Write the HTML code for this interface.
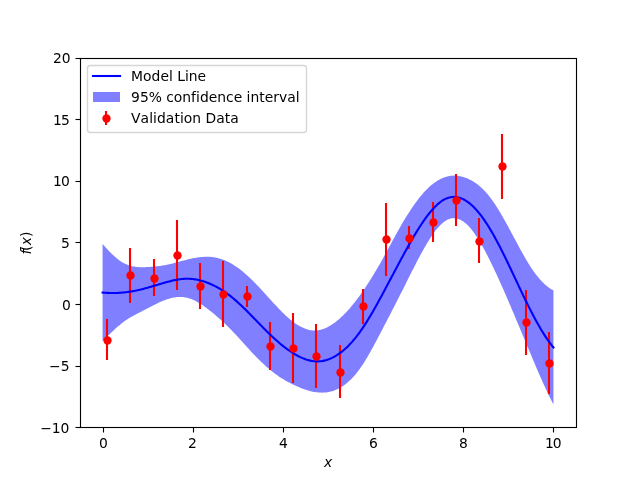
<!DOCTYPE html>
<html lang="en">
<head>
<meta charset="utf-8">
<title>Model Line with 95% confidence interval</title>
<style>
html,body{margin:0;padding:0;background:#fff;}
body{width:640px;height:480px;overflow:hidden;}
svg{display:block;}
svg text{font-family:"DejaVu Sans","Liberation Sans",sans-serif;font-size:13.889px;fill:#000;}
.it{font-style:oblique;}
</style>
</head>
<body>
<svg width="640" height="480" viewBox="0 0 640 480">
<rect x="0" y="0" width="640" height="480" fill="#ffffff"/>
<polygon points="102.55,244.01 103.68,245.31 104.81,246.59 105.94,247.85 107.07,249.08 108.2,250.29 109.33,251.46 110.46,252.61 111.59,253.73 112.72,254.81 113.85,255.85 114.98,256.86 116.11,257.82 117.24,258.74 118.37,259.62 119.5,260.45 120.63,261.23 121.76,261.97 122.89,262.64 124.02,263.27 125.15,263.83 126.28,264.35 127.41,264.81 128.54,265.22 129.67,265.58 130.8,265.9 131.93,266.18 133.06,266.42 134.19,266.62 135.32,266.78 136.45,266.92 137.58,267.03 138.71,267.1 139.84,267.16 140.97,267.19 142.1,267.21 143.23,267.2 144.36,267.19 145.49,267.16 146.62,267.12 147.75,267.07 148.88,267.02 150.01,266.95 151.14,266.87 152.27,266.79 153.4,266.69 154.53,266.59 155.66,266.47 156.79,266.34 157.92,266.21 159.05,266.06 160.18,265.9 161.31,265.73 162.44,265.55 163.57,265.36 164.7,265.16 165.83,264.94 166.96,264.72 168.09,264.48 169.22,264.23 170.35,263.97 171.48,263.7 172.61,263.43 173.74,263.15 174.87,262.86 176,262.57 177.13,262.27 178.26,261.97 179.39,261.67 180.52,261.37 181.65,261.07 182.78,260.77 183.91,260.48 185.04,260.19 186.17,259.9 187.3,259.62 188.43,259.34 189.56,259.08 190.69,258.82 191.82,258.57 192.95,258.34 194.08,258.11 195.21,257.9 196.34,257.7 197.47,257.52 198.6,257.36 199.73,257.21 200.86,257.08 201.99,256.97 203.12,256.88 204.25,256.82 205.38,256.78 206.51,256.76 207.64,256.76 208.77,256.8 209.9,256.86 211.03,256.95 212.16,257.06 213.29,257.21 214.42,257.39 215.56,257.59 216.69,257.82 217.82,258.09 218.95,258.38 220.08,258.7 221.21,259.06 222.34,259.44 223.47,259.85 224.6,260.29 225.73,260.77 226.86,261.27 227.99,261.81 229.12,262.37 230.25,262.97 231.38,263.6 232.51,264.26 233.64,264.94 234.77,265.66 235.9,266.41 237.03,267.19 238.16,268 239.29,268.83 240.42,269.69 241.55,270.58 242.68,271.49 243.81,272.43 244.94,273.39 246.07,274.38 247.2,275.38 248.33,276.42 249.46,277.47 250.59,278.54 251.72,279.64 252.85,280.75 253.98,281.89 255.11,283.04 256.24,284.21 257.37,285.39 258.5,286.58 259.63,287.79 260.76,289.01 261.89,290.24 263.02,291.47 264.15,292.71 265.28,293.96 266.41,295.2 267.54,296.45 268.67,297.7 269.8,298.95 270.93,300.19 272.06,301.43 273.19,302.67 274.32,303.89 275.45,305.11 276.58,306.32 277.71,307.51 278.84,308.69 279.97,309.86 281.1,311 282.23,312.13 283.36,313.25 284.49,314.33 285.62,315.4 286.75,316.44 287.88,317.46 289.01,318.44 290.14,319.4 291.27,320.33 292.4,321.22 293.53,322.08 294.66,322.91 295.79,323.7 296.92,324.45 298.05,325.16 299.18,325.83 300.31,326.46 301.44,327.05 302.57,327.59 303.7,328.09 304.83,328.55 305.96,328.96 307.09,329.33 308.22,329.64 309.35,329.91 310.48,330.13 311.61,330.3 312.74,330.42 313.87,330.49 315,330.51 316.13,330.47 317.26,330.38 318.39,330.23 319.52,330.03 320.65,329.78 321.78,329.47 322.91,329.12 324.04,328.71 325.17,328.26 326.3,327.76 327.43,327.21 328.57,326.61 329.7,325.98 330.83,325.29 331.96,324.57 333.09,323.8 334.22,322.99 335.35,322.15 336.48,321.26 337.61,320.34 338.74,319.38 339.87,318.38 341,317.35 342.13,316.29 343.26,315.19 344.39,314.06 345.52,312.89 346.65,311.69 347.78,310.46 348.91,309.2 350.04,307.91 351.17,306.58 352.3,305.23 353.43,303.84 354.56,302.43 355.69,300.98 356.82,299.51 357.95,298.01 359.08,296.48 360.21,294.92 361.34,293.34 362.47,291.73 363.6,290.09 364.73,288.43 365.86,286.74 366.99,285.03 368.12,283.29 369.25,281.53 370.38,279.74 371.51,277.94 372.64,276.1 373.77,274.25 374.9,272.37 376.03,270.47 377.16,268.55 378.29,266.61 379.42,264.65 380.55,262.67 381.68,260.67 382.81,258.65 383.94,256.61 385.07,254.56 386.2,252.49 387.33,250.42 388.46,248.34 389.59,246.26 390.72,244.17 391.85,242.09 392.98,240.01 394.11,237.93 395.24,235.87 396.37,233.81 397.5,231.77 398.63,229.75 399.76,227.74 400.89,225.76 402.02,223.8 403.15,221.87 404.28,219.96 405.41,218.09 406.54,216.25 407.67,214.43 408.8,212.66 409.93,210.91 411.06,209.2 412.19,207.52 413.32,205.88 414.45,204.28 415.58,202.71 416.71,201.18 417.84,199.69 418.97,198.24 420.1,196.83 421.23,195.46 422.36,194.13 423.49,192.85 424.62,191.61 425.75,190.42 426.88,189.27 428.01,188.16 429.14,187.1 430.27,186.09 431.4,185.12 432.53,184.19 433.66,183.32 434.79,182.49 435.92,181.7 437.05,180.97 438.18,180.27 439.31,179.63 440.44,179.04 441.58,178.49 442.71,177.99 443.84,177.53 444.97,177.13 446.1,176.77 447.23,176.47 448.36,176.21 449.49,176 450.62,175.83 451.75,175.71 452.88,175.64 454.01,175.61 455.14,175.63 456.27,175.69 457.4,175.79 458.53,175.94 459.66,176.13 460.79,176.36 461.92,176.63 463.05,176.94 464.18,177.29 465.31,177.68 466.44,178.11 467.57,178.58 468.7,179.09 469.83,179.63 470.96,180.21 472.09,180.84 473.22,181.51 474.35,182.22 475.48,182.97 476.61,183.77 477.74,184.62 478.87,185.52 480,186.47 481.13,187.47 482.26,188.52 483.39,189.63 484.52,190.79 485.65,192 486.78,193.28 487.91,194.61 489.04,196 490.17,197.46 491.3,198.97 492.43,200.54 493.56,202.16 494.69,203.83 495.82,205.55 496.95,207.31 498.08,209.12 499.21,210.97 500.34,212.85 501.47,214.77 502.6,216.72 503.73,218.7 504.86,220.71 505.99,222.73 507.12,224.78 508.25,226.85 509.38,228.94 510.51,231.04 511.64,233.14 512.77,235.26 513.9,237.38 515.03,239.49 516.16,241.61 517.29,243.72 518.42,245.81 519.55,247.9 520.68,249.96 521.81,252.01 522.94,254.03 524.07,256.02 525.2,257.98 526.33,259.91 527.46,261.8 528.59,263.64 529.72,265.45 530.85,267.2 531.98,268.9 533.11,270.55 534.24,272.14 535.37,273.68 536.5,275.15 537.63,276.58 538.76,277.94 539.89,279.25 541.02,280.51 542.15,281.7 543.28,282.84 544.41,283.92 545.54,284.95 546.67,285.91 547.8,286.82 548.93,287.67 550.06,288.46 551.19,289.19 552.32,289.86 553.46,290.47 553.46,404.4 552.32,402.25 551.19,400.04 550.06,397.78 548.93,395.48 547.8,393.14 546.67,390.75 545.54,388.33 544.41,385.87 543.28,383.38 542.15,380.86 541.02,378.32 539.89,375.74 538.76,373.15 537.63,370.53 536.5,367.9 535.37,365.25 534.24,362.58 533.11,359.91 531.98,357.23 530.85,354.54 529.72,351.85 528.59,349.15 527.46,346.45 526.33,343.75 525.2,341.04 524.07,338.34 522.94,335.63 521.81,332.93 520.68,330.22 519.55,327.52 518.42,324.82 517.29,322.13 516.16,319.43 515.03,316.75 513.9,314.07 512.77,311.4 511.64,308.73 510.51,306.07 509.38,303.42 508.25,300.79 507.12,298.16 505.99,295.55 504.86,292.95 503.73,290.37 502.6,287.8 501.47,285.25 500.34,282.72 499.21,280.21 498.08,277.72 496.95,275.26 495.82,272.82 494.69,270.4 493.56,268.01 492.43,265.65 491.3,263.32 490.17,261.02 489.04,258.75 487.91,256.51 486.78,254.31 485.65,252.14 484.52,250.02 483.39,247.94 482.26,245.91 481.13,243.93 480,242 478.87,240.13 477.74,238.32 476.61,236.57 475.48,234.88 474.35,233.26 473.22,231.71 472.09,230.23 470.96,228.83 469.83,227.5 468.7,226.26 467.57,225.1 466.44,224.03 465.31,223.05 464.18,222.15 463.05,221.35 461.92,220.63 460.79,220.01 459.66,219.47 458.53,219.03 457.4,218.68 456.27,218.43 455.14,218.27 454.01,218.2 452.88,218.23 451.75,218.36 450.62,218.58 449.49,218.9 448.36,219.32 447.23,219.84 446.1,220.45 444.97,221.17 443.84,221.98 442.71,222.89 441.58,223.89 440.44,224.98 439.31,226.15 438.18,227.4 437.05,228.72 435.92,230.12 434.79,231.59 433.66,233.13 432.53,234.73 431.4,236.4 430.27,238.12 429.14,239.89 428.01,241.71 426.88,243.58 425.75,245.49 424.62,247.45 423.49,249.44 422.36,251.46 421.23,253.52 420.1,255.61 418.97,257.72 417.84,259.86 416.71,262.03 415.58,264.21 414.45,266.41 413.32,268.63 412.19,270.86 411.06,273.1 409.93,275.35 408.8,277.6 407.67,279.86 406.54,282.12 405.41,284.38 404.28,286.64 403.15,288.89 402.02,291.14 400.89,293.37 399.76,295.6 398.63,297.83 397.5,300.04 396.37,302.25 395.24,304.46 394.11,306.66 392.98,308.85 391.85,311.04 390.72,313.23 389.59,315.41 388.46,317.59 387.33,319.77 386.2,321.94 385.07,324.12 383.94,326.29 382.81,328.46 381.68,330.63 380.55,332.8 379.42,334.97 378.29,337.12 377.16,339.27 376.03,341.41 374.9,343.53 373.77,345.63 372.64,347.71 371.51,349.77 370.38,351.79 369.25,353.79 368.12,355.74 366.99,357.66 365.86,359.54 364.73,361.38 363.6,363.17 362.47,364.9 361.34,366.59 360.21,368.21 359.08,369.78 357.95,371.29 356.82,372.74 355.69,374.13 354.56,375.46 353.43,376.74 352.3,377.96 351.17,379.13 350.04,380.24 348.91,381.3 347.78,382.31 346.65,383.26 345.52,384.16 344.39,385.01 343.26,385.82 342.13,386.57 341,387.27 339.87,387.93 338.74,388.54 337.61,389.1 336.48,389.62 335.35,390.09 334.22,390.52 333.09,390.9 331.96,391.25 330.83,391.55 329.7,391.82 328.57,392.04 327.43,392.23 326.3,392.38 325.17,392.49 324.04,392.57 322.91,392.62 321.78,392.63 320.65,392.61 319.52,392.56 318.39,392.48 317.26,392.37 316.13,392.24 315,392.07 313.87,391.88 312.74,391.66 311.61,391.42 310.48,391.15 309.35,390.86 308.22,390.55 307.09,390.22 305.96,389.86 304.83,389.49 303.7,389.09 302.57,388.68 301.44,388.25 300.31,387.8 299.18,387.33 298.05,386.85 296.92,386.36 295.79,385.85 294.66,385.33 293.53,384.8 292.4,384.25 291.27,383.68 290.14,383.11 289.01,382.51 287.88,381.9 286.75,381.28 285.62,380.63 284.49,379.97 283.36,379.3 282.23,378.6 281.1,377.88 279.97,377.14 278.84,376.39 277.71,375.61 276.58,374.81 275.45,373.99 274.32,373.15 273.19,372.28 272.06,371.4 270.93,370.49 269.8,369.56 268.67,368.61 267.54,367.63 266.41,366.64 265.28,365.63 264.15,364.6 263.02,363.55 261.89,362.49 260.76,361.41 259.63,360.31 258.5,359.19 257.37,358.06 256.24,356.91 255.11,355.75 253.98,354.58 252.85,353.39 251.72,352.19 250.59,350.97 249.46,349.75 248.33,348.52 247.2,347.28 246.07,346.03 244.94,344.78 243.81,343.53 242.68,342.28 241.55,341.03 240.42,339.78 239.29,338.54 238.16,337.3 237.03,336.07 235.9,334.84 234.77,333.63 233.64,332.43 232.51,331.24 231.38,330.07 230.25,328.91 229.12,327.77 227.99,326.64 226.86,325.53 225.73,324.44 224.6,323.36 223.47,322.29 222.34,321.25 221.21,320.21 220.08,319.19 218.95,318.19 217.82,317.2 216.69,316.22 215.56,315.26 214.42,314.31 213.29,313.37 212.16,312.45 211.03,311.54 209.9,310.65 208.77,309.76 207.64,308.9 206.51,308.05 205.38,307.21 204.25,306.4 203.12,305.61 201.99,304.84 200.86,304.1 199.73,303.38 198.6,302.7 197.47,302.04 196.34,301.42 195.21,300.83 194.08,300.28 192.95,299.77 191.82,299.29 190.69,298.86 189.56,298.47 188.43,298.13 187.3,297.84 186.17,297.58 185.04,297.38 183.91,297.22 182.78,297.1 181.65,297.02 180.52,296.99 179.39,296.99 178.26,297.03 177.13,297.11 176,297.23 174.87,297.38 173.74,297.56 172.61,297.78 171.48,298.03 170.35,298.32 169.22,298.63 168.09,298.97 166.96,299.34 165.83,299.73 164.7,300.15 163.57,300.6 162.44,301.06 161.31,301.55 160.18,302.05 159.05,302.57 157.92,303.11 156.79,303.65 155.66,304.21 154.53,304.78 153.4,305.35 152.27,305.94 151.14,306.52 150.01,307.11 148.88,307.7 147.75,308.29 146.62,308.87 145.49,309.45 144.36,310.03 143.23,310.6 142.1,311.17 140.97,311.74 139.84,312.31 138.71,312.88 137.58,313.46 136.45,314.05 135.32,314.65 134.19,315.26 133.06,315.88 131.93,316.52 130.8,317.18 129.67,317.86 128.54,318.56 127.41,319.28 126.28,320.04 125.15,320.82 124.02,321.62 122.89,322.47 121.76,323.34 120.63,324.24 119.5,325.16 118.37,326.12 117.24,327.09 116.11,328.09 114.98,329.1 113.85,330.14 112.72,331.19 111.59,332.25 110.46,333.32 109.33,334.41 108.2,335.5 107.07,336.6 105.94,337.71 104.81,338.81 103.68,339.92 102.55,341.03" fill="#0000ff" fill-opacity="0.5" stroke="none"/>
<g stroke="#ff0000" stroke-width="2.083" fill="none">
<line x1="107" y1="319" x2="107" y2="360"/>
<line x1="130" y1="248" x2="130" y2="303"/>
<line x1="154" y1="259" x2="154" y2="296"/>
<line x1="177" y1="220" x2="177" y2="290"/>
<line x1="200" y1="263" x2="200" y2="309"/>
<line x1="223" y1="261" x2="223" y2="327"/>
<line x1="247" y1="286" x2="247" y2="307"/>
<line x1="270" y1="322" x2="270" y2="370"/>
<line x1="293" y1="313" x2="293" y2="383"/>
<line x1="316" y1="324" x2="316" y2="388"/>
<line x1="340" y1="345" x2="340" y2="398"/>
<line x1="363" y1="289" x2="363" y2="324"/>
<line x1="386" y1="203" x2="386" y2="276"/>
<line x1="409" y1="226" x2="409" y2="249"/>
<line x1="433" y1="202" x2="433" y2="242"/>
<line x1="456" y1="174" x2="456" y2="226"/>
<line x1="479" y1="218" x2="479" y2="263"/>
<line x1="502" y1="134" x2="502" y2="199"/>
<line x1="526" y1="290" x2="526" y2="355"/>
<line x1="549" y1="332" x2="549" y2="394"/>
</g>
<polyline points="102.55,292.52 103.68,292.62 104.81,292.7 105.94,292.78 107.07,292.84 108.2,292.89 109.33,292.94 110.46,292.97 111.59,292.99 112.72,293 113.85,292.99 114.98,292.98 116.11,292.95 117.24,292.92 118.37,292.87 119.5,292.81 120.63,292.74 121.76,292.65 122.89,292.56 124.02,292.45 125.15,292.32 126.28,292.19 127.41,292.05 128.54,291.89 129.67,291.72 130.8,291.54 131.93,291.35 133.06,291.15 134.19,290.94 135.32,290.72 136.45,290.48 137.58,290.24 138.71,289.99 139.84,289.73 140.97,289.46 142.1,289.19 143.23,288.9 144.36,288.61 145.49,288.3 146.62,288 147.75,287.68 148.88,287.36 150.01,287.03 151.14,286.7 152.27,286.36 153.4,286.02 154.53,285.68 155.66,285.34 156.79,285 157.92,284.66 159.05,284.32 160.18,283.98 161.31,283.64 162.44,283.31 163.57,282.98 164.7,282.65 165.83,282.34 166.96,282.03 168.09,281.72 169.22,281.43 170.35,281.14 171.48,280.87 172.61,280.6 173.74,280.35 174.87,280.12 176,279.9 177.13,279.69 178.26,279.5 179.39,279.33 180.52,279.18 181.65,279.05 182.78,278.94 183.91,278.85 185.04,278.78 186.17,278.74 187.3,278.73 188.43,278.74 189.56,278.78 190.69,278.84 191.82,278.93 192.95,279.05 194.08,279.2 195.21,279.37 196.34,279.56 197.47,279.78 198.6,280.03 199.73,280.3 200.86,280.59 201.99,280.91 203.12,281.25 204.25,281.61 205.38,281.99 206.51,282.4 207.64,282.83 208.77,283.28 209.9,283.75 211.03,284.24 212.16,284.76 213.29,285.29 214.42,285.85 215.56,286.42 216.69,287.02 217.82,287.64 218.95,288.28 220.08,288.95 221.21,289.63 222.34,290.34 223.47,291.07 224.6,291.83 225.73,292.6 226.86,293.4 227.99,294.22 229.12,295.07 230.25,295.94 231.38,296.83 232.51,297.75 233.64,298.69 234.77,299.65 235.9,300.63 237.03,301.63 238.16,302.65 239.29,303.69 240.42,304.74 241.55,305.81 242.68,306.89 243.81,307.98 244.94,309.09 246.07,310.2 247.2,311.33 248.33,312.47 249.46,313.61 250.59,314.76 251.72,315.91 252.85,317.07 253.98,318.23 255.11,319.39 256.24,320.56 257.37,321.72 258.5,322.89 259.63,324.05 260.76,325.21 261.89,326.36 263.02,327.51 264.15,328.66 265.28,329.79 266.41,330.92 267.54,332.04 268.67,333.15 269.8,334.25 270.93,335.34 272.06,336.41 273.19,337.48 274.32,338.52 275.45,339.55 276.58,340.56 277.71,341.56 278.84,342.54 279.97,343.5 281.1,344.44 282.23,345.37 283.36,346.27 284.49,347.15 285.62,348.02 286.75,348.86 287.88,349.68 289.01,350.48 290.14,351.25 291.27,352.01 292.4,352.74 293.53,353.44 294.66,354.12 295.79,354.78 296.92,355.4 298.05,356.01 299.18,356.58 300.31,357.13 301.44,357.65 302.57,358.13 303.7,358.59 304.83,359.02 305.96,359.41 307.09,359.77 308.22,360.1 309.35,360.39 310.48,360.64 311.61,360.86 312.74,361.04 313.87,361.19 315,361.29 316.13,361.35 317.26,361.38 318.39,361.36 319.52,361.3 320.65,361.2 321.78,361.05 322.91,360.87 324.04,360.64 325.17,360.38 326.3,360.07 327.43,359.72 328.57,359.33 329.7,358.9 330.83,358.42 331.96,357.91 333.09,357.35 334.22,356.75 335.35,356.12 336.48,355.44 337.61,354.72 338.74,353.96 339.87,353.16 341,352.31 342.13,351.43 343.26,350.5 344.39,349.54 345.52,348.53 346.65,347.48 347.78,346.38 348.91,345.25 350.04,344.07 351.17,342.86 352.3,341.59 353.43,340.29 354.56,338.94 355.69,337.55 356.82,336.12 357.95,334.65 359.08,333.13 360.21,331.57 361.34,329.96 362.47,328.32 363.6,326.63 364.73,324.9 365.86,323.14 366.99,321.35 368.12,319.52 369.25,317.66 370.38,315.77 371.51,313.85 372.64,311.91 373.77,309.94 374.9,307.95 376.03,305.94 377.16,303.91 378.29,301.87 379.42,299.81 380.55,297.74 381.68,295.65 382.81,293.55 383.94,291.45 385.07,289.34 386.2,287.22 387.33,285.1 388.46,282.97 389.59,280.83 390.72,278.7 391.85,276.57 392.98,274.43 394.11,272.29 395.24,270.16 396.37,268.03 397.5,265.91 398.63,263.79 399.76,261.67 400.89,259.57 402.02,257.47 403.15,255.38 404.28,253.3 405.41,251.24 406.54,249.19 407.67,247.15 408.8,245.13 409.93,243.13 411.06,241.15 412.19,239.19 413.32,237.25 414.45,235.34 415.58,233.46 416.71,231.6 417.84,229.78 418.97,227.98 420.1,226.22 421.23,224.49 422.36,222.8 423.49,221.14 424.62,219.53 425.75,217.96 426.88,216.42 428.01,214.94 429.14,213.49 430.27,212.1 431.4,210.76 432.53,209.46 433.66,208.22 434.79,207.04 435.92,205.91 437.05,204.84 438.18,203.84 439.31,202.89 440.44,202.01 441.58,201.19 442.71,200.44 443.84,199.76 444.97,199.15 446.1,198.61 447.23,198.15 448.36,197.76 449.49,197.45 450.62,197.2 451.75,197.03 452.88,196.93 454.01,196.91 455.14,196.95 456.27,197.06 457.4,197.24 458.53,197.49 459.66,197.8 460.79,198.18 461.92,198.63 463.05,199.14 464.18,199.72 465.31,200.37 466.44,201.07 467.57,201.84 468.7,202.67 469.83,203.57 470.96,204.52 472.09,205.53 473.22,206.61 474.35,207.74 475.48,208.93 476.61,210.17 477.74,211.47 478.87,212.83 480,214.24 481.13,215.7 482.26,217.22 483.39,218.79 484.52,220.4 485.65,222.07 486.78,223.79 487.91,225.56 489.04,227.37 490.17,229.24 491.3,231.14 492.43,233.09 493.56,235.09 494.69,237.12 495.82,239.18 496.95,241.29 498.08,243.42 499.21,245.59 500.34,247.79 501.47,250.01 502.6,252.26 503.73,254.53 504.86,256.83 505.99,259.14 507.12,261.47 508.25,263.82 509.38,266.18 510.51,268.55 511.64,270.94 512.77,273.33 513.9,275.72 515.03,278.12 516.16,280.52 517.29,282.92 518.42,285.32 519.55,287.71 520.68,290.09 521.81,292.47 522.94,294.83 524.07,297.18 525.2,299.51 526.33,301.83 527.46,304.12 528.59,306.4 529.72,308.65 530.85,310.87 531.98,313.07 533.11,315.23 534.24,317.36 535.37,319.46 536.5,321.53 537.63,323.55 538.76,325.55 539.89,327.5 541.02,329.41 542.15,331.28 543.28,333.11 544.41,334.9 545.54,336.64 546.67,338.33 547.8,339.98 548.93,341.57 550.06,343.12 551.19,344.61 552.32,346.05 553.46,347.44" fill="none" stroke="#0000ff" stroke-width="2.083" stroke-linecap="square" stroke-linejoin="round"/>
<g fill="#ff0000" stroke="none">
<circle cx="107.5" cy="340.5" r="4.167"/>
<circle cx="130.5" cy="275.5" r="4.167"/>
<circle cx="154.5" cy="278.5" r="4.167"/>
<circle cx="177.5" cy="255.5" r="4.167"/>
<circle cx="200.5" cy="286.5" r="4.167"/>
<circle cx="223.5" cy="294.5" r="4.167"/>
<circle cx="247.5" cy="296.5" r="4.167"/>
<circle cx="270.5" cy="346.5" r="4.167"/>
<circle cx="293.5" cy="348.5" r="4.167"/>
<circle cx="316.5" cy="356.5" r="4.167"/>
<circle cx="340.5" cy="372.5" r="4.167"/>
<circle cx="363.5" cy="306.5" r="4.167"/>
<circle cx="386.5" cy="239.5" r="4.167"/>
<circle cx="409.5" cy="238.5" r="4.167"/>
<circle cx="433.5" cy="222.5" r="4.167"/>
<circle cx="456.5" cy="200.5" r="4.167"/>
<circle cx="479.5" cy="241.5" r="4.167"/>
<circle cx="502.5" cy="166.5" r="4.167"/>
<circle cx="526.5" cy="322.5" r="4.167"/>
<circle cx="549.5" cy="363.5" r="4.167"/>
</g>
<g stroke="#000000" stroke-width="1.111" fill="none">
<line x1="103.5" y1="427.5" x2="103.5" y2="432.5"/>
<line x1="193.5" y1="427.5" x2="193.5" y2="432.5"/>
<line x1="283.5" y1="427.5" x2="283.5" y2="432.5"/>
<line x1="373.5" y1="427.5" x2="373.5" y2="432.5"/>
<line x1="463.5" y1="427.5" x2="463.5" y2="432.5"/>
<line x1="553.5" y1="427.5" x2="553.5" y2="432.5"/>
<line x1="80.5" y1="427.5" x2="75.5" y2="427.5"/>
<line x1="80.5" y1="366.5" x2="75.5" y2="366.5"/>
<line x1="80.5" y1="304.5" x2="75.5" y2="304.5"/>
<line x1="80.5" y1="242.5" x2="75.5" y2="242.5"/>
<line x1="80.5" y1="181.5" x2="75.5" y2="181.5"/>
<line x1="80.5" y1="119.5" x2="75.5" y2="119.5"/>
<line x1="80.5" y1="58.5" x2="75.5" y2="58.5"/>
</g>
<rect x="80.5" y="58.5" width="496" height="369" fill="none" stroke="#000000" stroke-width="1.111" stroke-linejoin="miter"/>
<text x="103.3" y="448.4" text-anchor="middle">0</text>
<text x="192.45" y="448.4" text-anchor="middle">2</text>
<text x="283.3" y="448.4" text-anchor="middle">4</text>
<text x="373.3" y="448.4" text-anchor="middle">6</text>
<text x="463.3" y="448.4" text-anchor="middle">8</text>
<text x="545.0 552.85" y="448.4">10</text>
<text x="69.44" y="432.5" text-anchor="end">−10</text>
<text x="69.58" y="370.56" text-anchor="end">−5</text>
<text x="70.72" y="309.5" text-anchor="end">0</text>
<text x="69.9" y="247.5" text-anchor="end">5</text>
<text x="53.06 60.9" y="185.54">10</text>
<text x="53.07 60.9" y="124.5">15</text>
<text x="70.7" y="62.54" text-anchor="end">20</text>
<text class="it" x="324.07" y="466.7">x</text>
<g transform="translate(31.6 255.5) rotate(-90)"><text y="-0.56"><tspan class="it" x="1.1">f</tspan><tspan x="4.5">(</tspan><tspan class="it" x="10.31">x</tspan><tspan x="18.53">)</tspan></text></g>
<rect x="87.5" y="65.5" width="219" height="67" rx="2.78" ry="2.78" fill="#ffffff" fill-opacity="0.8" stroke="#cccccc" stroke-opacity="0.8" stroke-width="1.389"/>
<line x1="91.9" y1="76" x2="121.1" y2="76" stroke="#0000ff" stroke-width="2.083"/>
<text x="131.1 143.1 151.6 160.47 168.97 172.85 177.22 184.97 188.85 197.6" y="80.65">Model Line</text>
<rect x="93" y="92" width="27" height="10" fill="#0000ff" fill-opacity="0.5"/>
<text x="131.1 139.97 148.72 161.85 166.22 173.85 182.35 191.1 196.1 199.97 208.85 217.35 226.1 233.72 242.22 246.6 250.47 259.23 264.73 273.23 278.98 287.23 295.85" y="101.6">95% confidence interval</text>
<line x1="106" y1="111" x2="106" y2="125" stroke="#ff0000" stroke-width="2.083"/>
<circle cx="106.5" cy="118.5" r="4.167" fill="#ff0000"/>
<text x="131.1 140.6 149.22 153.1 156.97 165.85 174.47 179.97 183.85 192.35 201.1 205.47 216.22 224.85 230.35" y="122.6">Validation Data</text>
</svg>
</body>
</html>
